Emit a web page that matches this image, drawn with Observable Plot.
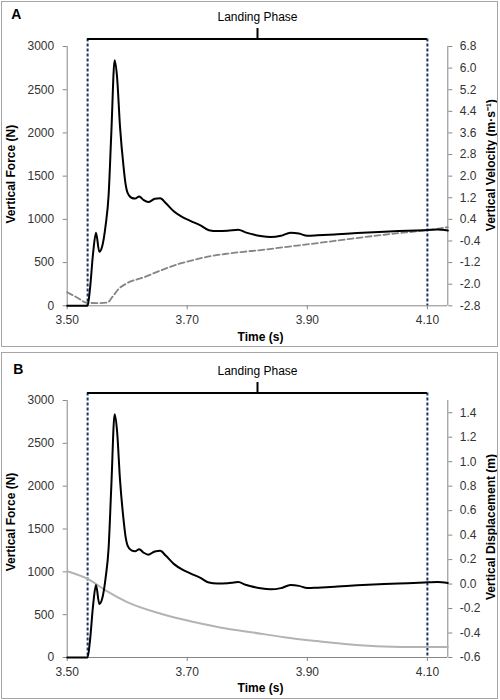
<!DOCTYPE html>
<html>
<head>
<meta charset="utf-8">
<script src="https://cdn.jsdelivr.net/npm/d3@7"></script>
<script src="https://cdn.jsdelivr.net/npm/@observablehq/plot@0.6"></script>
<style>
  body { margin: 0; background: white; width: 500px; height: 700px; position: relative; }
  .panel { position: absolute; left: 1px; width: 497px; border: 1px solid #a6a6a6; box-sizing: border-box; overflow: hidden; background: white; }
  #a { top: 1px; height: 346px; }
  #b { top: 352px; height: 347px; }
</style>
</head>
<body>
<div id="a" class="panel"></div>
<div id="b" class="panel"></div>
<script>
// ejes
const timeTicks = [3.5, 3.7, 3.9, 4.1];
const forceTicks = [0, 500, 1000, 1500, 2000, 2500, 3000];
const velocityTicks = [-2.8, -2.0, -1.2, -0.4, 0.4, 1.2, 2.0, 2.8, 3.6, 4.4, 5.2, 6.0, 6.8];
const displacementTicks = [-0.6, -0.4, -0.2, 0.0, 0.2, 0.4, 0.6, 0.8, 1.0, 1.2, 1.4];
const landingPhase = [3.534, 4.10]; // inicio y fin de la fase de aterrizaje

// fuerza vertical (N), igual en los dos paneles
const forceTime = [3.500, 3.534, 3.538, 3.543, 3.548, 3.5535, 3.558, 3.564, 3.569, 3.5735, 3.579, 3.583, 3.588, 3.594, 3.597,
  3.601, 3.607, 3.613, 3.620, 3.627, 3.635, 3.646, 3.655, 3.664, 3.678, 3.692, 3.706, 3.722, 3.736, 3.750, 3.767, 3.785, 3.797,
  3.806, 3.822, 3.839, 3.856, 3.872, 3.886, 3.900, 3.917, 3.950, 3.983, 4.028, 4.067, 4.100, 4.117, 4.134];
const forceN = [0, 0, 200, 600, 845, 625, 680, 930, 1280, 2000, 2840, 2650, 2070, 1600, 1420,
  1300, 1250, 1240, 1265, 1225, 1200, 1238, 1245, 1190, 1090, 1025, 980, 930, 875, 865, 868, 880, 850,
  832, 808, 796, 810, 845, 836, 810, 815, 828, 842, 858, 868, 877, 882, 870];

// velocidad vertical (m/s), panel A
const velocityTime = [3.500, 3.517, 3.533, 3.550, 3.567, 3.575, 3.586, 3.600, 3.628, 3.656, 3.683, 3.711, 3.739, 3.767,
  3.794, 3.822, 3.861, 3.917, 3.972, 4.028, 4.083, 4.100, 4.134];
const velocityMs = [-2.30, -2.50, -2.69, -2.70, -2.68, -2.48, -2.17, -1.96, -1.74, -1.49, -1.27, -1.10, -0.96, -0.87,
  -0.80, -0.74, -0.63, -0.48, -0.32, -0.17, -0.04, 0.00, 0.11];

// desplazamiento vertical (m), panel B
const displacementTime = [3.500, 3.537, 3.564, 3.600, 3.656, 3.711, 3.767, 3.806, 3.861, 3.917, 3.972, 4.028, 4.083, 4.134];
const displacementM = [0.105, 0.035, -0.052, -0.148, -0.243, -0.310, -0.365, -0.393, -0.434, -0.466, -0.493, -0.510, -0.515, -0.515];

const axisColor = "#868686";
const textColor = "#333";
const xMax = 4.134;
const fMax = 3000;

const forceData = forceTime.map((t, i) => ({t, f: forceN[i]}));

function panel(sel, cfg) {
  const [lo, hi] = cfg.domain;
  const toForce = v => (v - lo) / (hi - lo) * fMax; // segundo eje sobre la escala de fuerza
  const fromForce = f => f / fMax * (hi - lo) + lo;
  const secData = cfg.time.map((t, i) => ({t, v: cfg.values[i]}));
  const mid = (landingPhase[0] + landingPhase[1]) / 2;

  const chart = Plot.plot({
    width: 495,
    height: cfg.height,
    marginLeft: 64.7,
    marginRight: 49.7,
    marginTop: cfg.marginTop,
    marginBottom: cfg.marginBottom,
    style: {fontFamily: "'Liberation Sans', Arial, sans-serif", fontSize: "12px", color: textColor, background: "white"},
    x: {domain: [3.5, xMax]},
    y: {domain: [0, fMax]},
    marks: [
      Plot.ruleX([3.5, xMax], {stroke: axisColor}),
      Plot.ruleY([0], {stroke: axisColor}),
      Plot.axisX({ticks: timeTicks, tickFormat: d => d.toFixed(2), tickSize: 4, tickPadding: 6, stroke: axisColor, fill: textColor, label: null}),
      Plot.axisY({ticks: forceTicks, tickFormat: d => String(d), tickSize: 4, tickPadding: 9, stroke: axisColor, fill: textColor, label: null}),
      Plot.axisY({anchor: "right", ticks: cfg.ticks.map(toForce), tickFormat: d => (Math.round(fromForce(d) * 10) / 10).toFixed(1),
        tickSize: 4, tickPadding: 8, stroke: axisColor, fill: textColor, label: null}),

      // fase de aterrizaje
      Plot.ruleX(landingPhase, {y1: fMax, y2: 0, insetTop: -7.5, stroke: "#1c3468", strokeWidth: 2, strokeDasharray: "3,2"}),
      Plot.ruleY([fMax], {x1: landingPhase[0], x2: landingPhase[1], dy: -7.5, stroke: "black", strokeWidth: 2}),
      Plot.ruleX([mid], {y1: fMax, y2: fMax, dy: -7.5, insetTop: -10.5, stroke: "black", strokeWidth: 2}),
      Plot.text(["Landing Phase"], {x: mid, y: fMax, dy: -29, fill: "black", fontSize: 12}),

      Plot.line(secData, {x: "t", y: d => toForce(d.v), curve: "monotone-x", ...cfg.lineStyle}),
      Plot.line(forceData, {x: "t", y: "f", stroke: "black", strokeWidth: 2, curve: "monotone-x"}),

      // titulos
      Plot.text([cfg.letter], {frameAnchor: "top-left", textAnchor: "middle", lineAnchor: "middle", dx: cfg.letterDx, dy: cfg.letterDy,
        fontWeight: "bold", fontSize: 14, fill: "black"}),
      Plot.text(["Time (s)"], {frameAnchor: "bottom", textAnchor: "middle", lineAnchor: "middle", dx: 3, dy: 31, fontWeight: "bold", fill: "black"}),
      Plot.text(["Vertical Force (N)"], {frameAnchor: "left", textAnchor: "middle", lineAnchor: "middle", rotate: -90, dx: -56, dy: cfg.leftDy,
        fontWeight: "bold", fill: "black"}),
      Plot.text([cfg.label], {frameAnchor: "right", textAnchor: "middle", lineAnchor: "middle", rotate: -90, dx: 43, dy: cfg.rightDy,
        fontWeight: "bold", fill: "black"})
    ]
  });
  d3.select(sel).append(() => chart);
}

panel("#a", {
  letter: "A", letterDx: -51, letterDy: -32,
  height: 344, marginTop: 44, marginBottom: 40.7,
  domain: [-2.8, 6.8], ticks: velocityTicks,
  time: velocityTime, values: velocityMs,
  label: "Vertical Velocity (m·s⁻¹)", leftDy: -2, rightDy: -11,
  lineStyle: {stroke: "#858585", strokeWidth: 1.8, strokeDasharray: "6,3"}
});

panel("#b", {
  letter: "B", letterDx: -49, letterDy: -31,
  height: 345, marginTop: 47, marginBottom: 41,
  domain: [-0.6, 1.5], ticks: displacementTicks,
  time: displacementTime, values: displacementM,
  label: "Vertical Displacement (m)", leftDy: -7, rightDy: -2,
  lineStyle: {stroke: "#b3b3b3", strokeWidth: 2}
});
</script>
</body>
</html>
